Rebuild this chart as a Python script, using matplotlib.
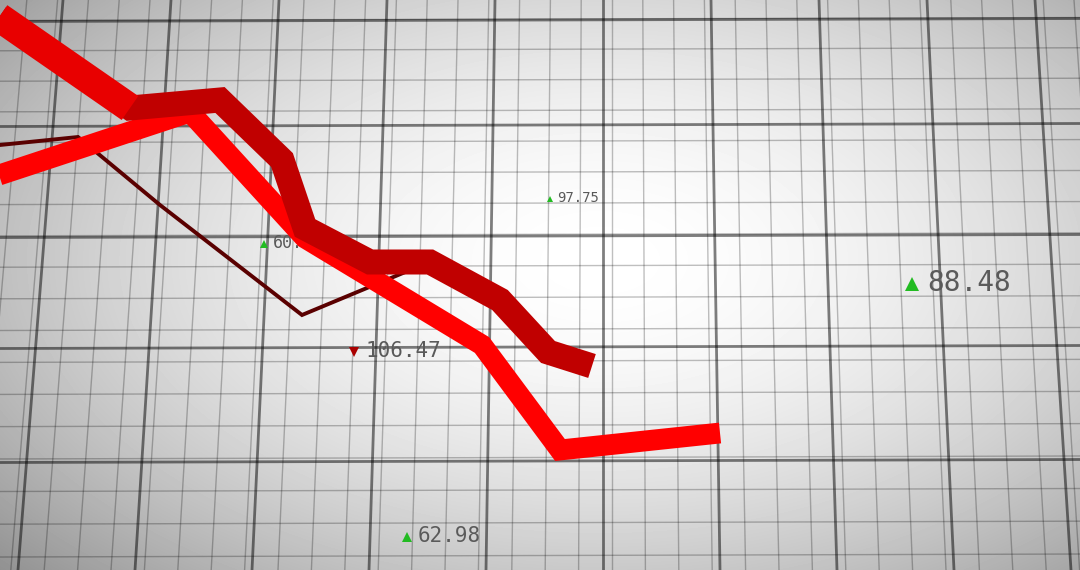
import numpy as np
import matplotlib
matplotlib.use("Agg")
import matplotlib.pyplot as plt

# ribbon lines (pixel-style coordinates, y grows downward)
dark_x = [-20, 130, 220, 282, 305, 370, 430, 500, 548, 592]
dark_y = [4, 108, 100, 160, 228, 262, 262, 300, 352, 366]
bright_x = [-10, 190, 305, 482, 560, 720]
bright_y = [178, 112, 238, 345, 450, 433]
thin_x = [-10, 78, 160, 302, 415]
thin_y = [146, 137, 205, 315, 268]

# floating ticker labels
labels = ["97.75", "88.48", "106.47", "62.98", "60.85"]
label_x = [557, 927, 365, 418, 273]
label_y = [198, 283, 351, 536, 243]
label_up = [True, True, False, True, True]
label_size = [10, 20, 15, 15, 12]

W, H = 1080, 570
fig = plt.figure(figsize=(W / 100, H / 100), dpi=100)
ax = fig.add_axes([0, 0, 1, 1])
ax.set_xlim(0, W)
ax.set_ylim(H, 0)
ax.axis("off")

# vignette background
gx, gy = np.meshgrid(np.arange(W), np.arange(H))
d = np.sqrt(((gx - 600) / 600.0) ** 2 + ((gy - 260) / 340.0) ** 2)
bg = np.clip(1.0 - 0.25 * d ** 1.8, 0.5, 1.0)
ax.imshow(bg, cmap="gray", vmin=0, vmax=1, extent=[0, W, H, 0],
          aspect="auto", zorder=0)

# perspective grid
ys = np.array([0, H])
for i in range(-7, 7):
    xs = 603 + i * (108 + 9 * ys / H)
    ax.plot(xs, ys, color="black", alpha=0.5, lw=2.0, zorder=1)
for j in range(-25, 22):
    xs = 612 + j * (30.8 + 2.6 * ys / H)
    ax.plot(xs, ys, color="black", alpha=0.25, lw=1.0, zorder=1)
for y0 in [20, 125, 236, 347, 461]:
    ax.plot([0, W], [y0 + 1.5, y0 - 1.5], color="black", alpha=0.5,
            lw=2.0, zorder=1)
for k in range(0, 19):
    y0 = 19 + 30.2 * k + 0.08 * k ** 2
    ax.plot([0, W], [y0 + 1.5, y0 - 1.5], color="black", alpha=0.25,
            lw=1.0, zorder=1)

# labels (under the ribbons)
for txt, x, y, up, s in zip(labels, label_x, label_y, label_up, label_size):
    ax.text(x, y, txt, fontsize=s, color="#5a5a5a",
            family=["DejaVu Sans Mono", "DejaVu Sans"], fontweight="light",
            va="center", ha="left", zorder=2)
    ax.plot(x - s * 0.75, y + s * 0.05, marker="^" if up else "v",
            color="#22bb22" if up else "#aa0000", ms=s * 0.5, mew=0,
            zorder=2)

# ribbons
ax.plot(thin_x, thin_y, color="#5a0000", lw=2.8, zorder=3,
        solid_joinstyle="miter", solid_capstyle="butt")
ax.plot(bright_x, bright_y, color="#ff0000", lw=15, zorder=4,
        solid_joinstyle="miter", solid_capstyle="butt")
ax.plot(dark_x, dark_y, color="#c00000", lw=18, zorder=5,
        solid_joinstyle="miter", solid_capstyle="butt")
ax.plot(dark_x[:2], dark_y[:2], color="#e80000", lw=21, zorder=5,
        solid_capstyle="butt")

fig.savefig("out.png", dpi=100)
